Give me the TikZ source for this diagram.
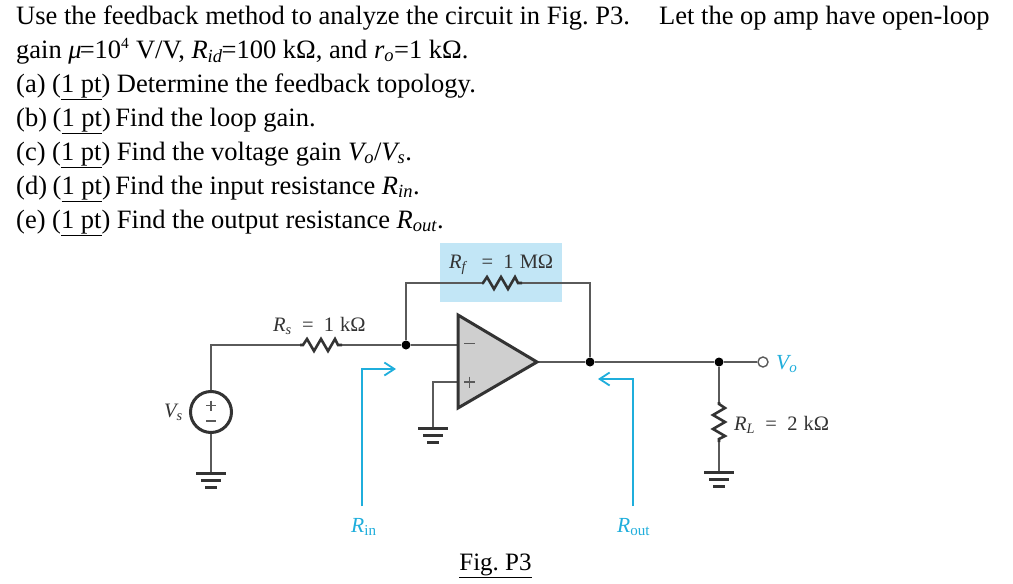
\documentclass[tikz,border=0pt]{standalone}
\usepackage{fontspec}
\setmainfont{Liberation Serif}
\usetikzlibrary{arrows.meta}
\definecolor{wirec}{HTML}{5A5A5A}
\definecolor{darkc}{HTML}{333333}
\definecolor{bluec}{HTML}{1FAEDC}
\definecolor{hlc}{HTML}{C2E6F6}
\definecolor{ampc}{HTML}{CFCFCF}
\tikzset{
 x=1pt,y=-1pt,
 qline/.style={anchor=base west,inner sep=0pt,font=\fontsize{26.5}{30}\selectfont,text=black},
 figlab/.style={inner sep=0pt,anchor=base west,font=\fontsize{20.5}{22}\selectfont,text=darkc},
 bluelab/.style={inner sep=0pt,anchor=base west,font=\fontsize{21.5}{23}\selectfont,text=bluec},
 wire/.style={draw=wirec,line width=1.4pt},
 res/.style={draw=darkc,line width=2.6pt,line join=miter},
 dotn/.style={circle,fill=black,inner sep=0pt,minimum size=9pt},
 gndl/.style={draw=darkc,line width=3pt},
 bluearrow/.style={draw=bluec,line width=1.9pt,-{Straight Barb[length=10pt,width=13pt,line width=1.8pt]}},
}
\newcommand{\pt}{\underline{1 pt}}
\newcommand{\gnd}[2]{%
 \draw[gndl] (#1-15,#2) -- (#1+15,#2) (#1-10,#2+7) -- (#1+10,#2+7) (#1-6,#2+14) -- (#1+6,#2+14);}
\begin{document}
\begin{tikzpicture}
\useasboundingbox (0,0) rectangle (1013,584);
\fill[white] (0,0) rectangle (1013,584);
% question text
\node[qline] (q1) at (16,24) {Use the feedback method to analyze the circuit in Fig.\ P3.};
\node[qline] (q1b) at (659,24) {Let the op amp have open-loop};
\node[qline] (q2) at (16,58) {gain \textit{μ}\kern-2pt=10\textsuperscript{\fontsize{15.5}{16}\selectfont 4} V/V, \textit{R\textsubscript{id}}\kern-1pt=100 kΩ, and \textit{r\textsubscript{o}}=1 kΩ.};
\node[qline] (q3) at (16,92) {(a) (\pt) Determine the feedback topology.};
\node[qline] (q4) at (16,126) {(b)\kern-1pt\ (\pt)\kern-2pt\ Find the loop gain.};
\node[qline] (q5) at (16,160) {(c) (\pt) Find the voltage gain \textit{V\textsubscript{o}}/\textit{V\textsubscript{s}}.};
\node[qline] (q6) at (16,194) {(d)\kern-1pt\ (\pt)\kern-2pt\ Find the input resistance \textit{R\textsubscript{in}}.};
\node[qline] (q7) at (16,228) {(e) (\pt) Find the output resistance \textit{R\textsubscript{out}}.};
% highlight
\fill[hlc] (440,243) rectangle (562,302);
% coordinates
\node[dotn] (ninv) at (406,345) {};
\node[dotn] (nout) at (590,362) {};
\node[dotn] (nload) at (719,362) {};
\node[circle,draw=wirec,fill=white,line width=1.4pt,inner sep=0pt,minimum size=10pt] (vo) at (763,362) {};
\node[circle,draw=darkc,line width=3pt,inner sep=0pt,minimum size=41pt] (vs) at (211,412) {};
\coordinate (vstop) at (211,345);
\coordinate (rsa) at (300,345);
\coordinate (rsb) at (342,345);
\coordinate (fbl) at (406,283);
\coordinate (fbr) at (590,283);
\coordinate (rfa) at (482,283);
\coordinate (rfb) at (522,283);
\coordinate (rla) at (719,402);
\coordinate (rlb) at (719,442);
\coordinate (ampm) at (458,345);
\coordinate (ampp) at (458,382);
\coordinate (amptip) at (537,362);
\coordinate (pl) at (433,382);
\coordinate (pg) at (433,428);
\coordinate (lg) at (719,472);
\coordinate (sg) at (211,473);
% wires
\draw[wire] (vs.north) -- (vstop) -- (rsa);
\draw[wire] (rsb) -- (ninv) -- (ampm);
\draw[wire] (ninv) -- (fbl) -- (rfa);
\draw[wire] (rfb) -- (fbr) -- (nout);
\draw[wire] (amptip) -- (nout) -- (nload) -- (vo);
\draw[wire] (ampp) -- (pl) -- (pg);
\draw[wire] (nload) -- (rla);
\draw[wire] (rlb) -- (lg);
\draw[wire] (vs.south) -- (sg);
% resistors
\draw[res] (rsa) -- ++(3,0) -- ++(4,-6) -- ++(7,12) -- ++(7,-12) -- ++(7,12) -- ++(7,-12) -- ++(3,6) -- (rsb);
\draw[res] (rfa) -- ++(1,0) -- ++(4,-6) -- ++(7,12) -- ++(7,-12) -- ++(7,12) -- ++(7,-12) -- ++(3,6) -- (rfb);
\draw[res] (rla) -- ++(0,2) -- ++(6,4) -- ++(-12,7) -- ++(12,7) -- ++(-12,7) -- ++(12,7) -- ++(-6,3) -- (rlb);
% grounds
\gnd{211}{473}
\gnd{433}{428}
\gnd{719}{472}
% op amp
\draw[draw=darkc,fill=ampc,line width=3pt,line join=miter] (458,315) -- (amptip) -- (458,408) -- cycle;
\draw[draw=wirec,line width=1.2pt] (464,343.5) -- (475,343.5);
\draw[draw=wirec,line width=1.2pt] (464,382) -- (475,382) (469.5,376.5) -- (469.5,387.5);
% source signs
\draw[draw=wirec,line width=1.2pt] (206,405.5) -- (216,405.5) (211,400.5) -- (211,410.5);
\draw[draw=wirec,line width=1.2pt] (206,421) -- (216,421);
% sense arrows
\coordinate (rinb) at (362,506);
\coordinate (rinc) at (362,369);
\coordinate (rine) at (396,369);
\coordinate (routb) at (633,506);
\coordinate (routc) at (633,379);
\coordinate (route) at (598,379);
\draw[bluearrow] (rinb) -- (rinc) -- (rine);
\draw[bluearrow] (routb) -- (routc) -- (route);
% labels
\node[figlab] (lrs) at (273,331) {\textit{R\textsubscript{s}}\ \ =\ \ 1\kern1pt\ kΩ};
\node[figlab] (lrf) at (449,268) {\textit{R\textsubscript{f}}\ \ \ =\ \ 1\kern1pt\ MΩ};
\node[figlab] (lrl) at (734,430) {\textit{R\textsubscript{L}}\ \ =\ \ 2\kern1pt\ kΩ};
\node[figlab] (lvs) at (164,417) {\textit{V\textsubscript{s}}};
\node[bluelab] (lvo) at (776,369) {\textit{V\textsubscript{o}}};
\node[bluelab] (lrin) at (351,532) {\textit{R}\textsubscript{in}};
\node[bluelab] (lrout) at (617,532) {\textit{R}\textsubscript{out}};
\node[qline,anchor=base] (figp) at (495.5,570) {\fontsize{25}{26}\selectfont\underline{Fig.\ P3}};
\end{tikzpicture}
\end{document}
